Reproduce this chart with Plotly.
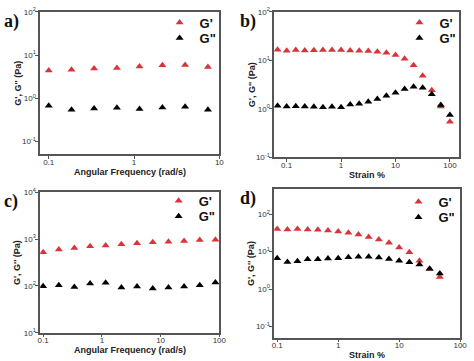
import plotly.graph_objects as go

# ---------------- data ----------------
freq_a = [0.1, 0.185, 0.34, 0.63, 1.16, 2.15, 3.97, 7.35]
gp_a = [4.4, 4.56, 4.9, 4.98, 5.4, 5.8, 5.9, 5.25]
gpp_a = [0.67, 0.54, 0.58, 0.60, 0.56, 0.61, 0.635, 0.54]

strain_b = [0.068, 0.1, 0.147, 0.215, 0.316, 0.464, 0.68, 1.0, 1.47, 2.15,
            3.16, 4.64, 6.8, 10.0, 14.7, 21.5, 31.6, 46.4, 68.0, 100.0]
gp_b = [16.5, 15.8, 16.3, 16.0, 16.2, 16.4, 16.3, 16.3, 16.0, 15.7,
        15.5, 15.0, 14.3, 12.8, 10.7, 7.9, 4.8, 2.4, 1.12, 0.54]
gpp_b = [1.15, 1.12, 1.13, 1.12, 1.10, 1.08, 1.10, 1.07, 1.22, 1.27,
         1.40, 1.60, 1.85, 2.15, 2.55, 2.85, 2.70, 2.00, 1.20, 0.74]

freq_c = [0.1, 0.185, 0.34, 0.63, 1.16, 2.15, 3.97, 7.35, 13.6, 25.1, 46.4, 85.8]
gp_c = [520, 595, 645, 700, 723, 771, 810, 850, 879, 908, 952, 968]
gpp_c = [98, 103, 95, 112, 116, 92, 97, 88, 92, 97, 103, 118]

strain_d = [0.1, 0.147, 0.215, 0.316, 0.464, 0.68, 1.0, 1.47, 2.15, 3.16,
            4.64, 6.8, 10.0, 14.7, 21.5, 31.6, 46.4]
gp_d = [40.6, 39.0, 40.6, 39.0, 38.3, 36.7, 34.6, 31.9, 28.9, 24.6,
        21.0, 17.2, 13.0, 9.6, 5.7, 3.45, 2.1]
gpp_d = [6.7, 5.3, 5.5, 6.3, 6.3, 6.6, 6.7, 7.1, 7.3, 7.3,
         7.0, 6.4, 5.7, 5.2, 4.5, 3.5, 2.6]

x_ticks = [0.1, 1, 10, 100]
x_ticktext = ["0.1", "1", "10", "100"]
y_ticks = [0.1, 1, 10, 100, 1000, 10000]
y_ticktext = ["10<sup>-1</sup>", "10<sup>0</sup>", "10<sup>1</sup>",
              "10<sup>2</sup>", "10<sup>3</sup>", "10<sup>4</sup>"]

panel_labels = ["a)", "b)", "c)", "d)"]
x_titles = ["Angular Frequency (rad/s)", "Strain %", "Angular Frequency (rad/s)", "Strain %"]
y_title = "G', G'' (Pa)"
name_gp = "G'"
name_gpp = 'G"'

RED = "#d8343c"
BLACK = "#000000"
AXC = "#555555"
SANS = "Arial, Liberation Sans, sans-serif"
SERIF = "Times New Roman, Liberation Serif, serif"

W, H = 474, 361

def px_x(p):
    return p / W

def px_y(p):
    return 1 - p / H

# panel geometry in pixels: (left, right, top, bottom), x range, y range,
# legend marker x and the two legend row centres, panel-label left x
panels = [
    dict(box=(38, 221, 6, 153), xr=[-1.1, 1.0], yr=[-1.3, 2.0], leg=(180, 17, 33), lab=0,
         x=freq_a, gp=gp_a, gpp=gpp_a),
    dict(box=(277, 466, 6, 156), xr=[-1.23, 2.17], yr=[-1.0, 2.0], leg=(425, 17, 33), lab=241,
         x=strain_b, gp=gp_b, gpp=gpp_b),
    dict(box=(38, 221, 192, 337), xr=[-1.05, 2.0], yr=[1.0, 4.0], leg=(179, 201, 217), lab=0,
         x=freq_c, gp=gp_c, gpp=gpp_c),
    dict(box=(277, 467, 189, 342), xr=[-1.05, 2.0], yr=[-1.3, 2.67], leg=(424, 202, 218), lab=241,
         x=strain_d, gp=gp_d, gpp=gpp_d),
]

fig = go.Figure()
layout = dict(
    width=W, height=H, margin=dict(l=0, r=0, t=0, b=0),
    paper_bgcolor="white", plot_bgcolor="white", showlegend=True,
    font=dict(family=SANS, color="#222"),
)
annotations = []

for i, p in enumerate(panels):
    n = "" if i == 0 else str(i + 1)
    xa, ya = "x" + n, "y" + n
    lg1 = "legend" + ("" if i == 0 else str(2 * i + 1))
    lg2 = "legend" + str(2 * i + 2)
    l, r, t, b = p["box"]
    mx, ly1, ly2 = p["leg"]
    fig.add_trace(go.Scatter(x=p["x"], y=p["gp"], mode="markers", name="<b>" + name_gp + "</b>",
                             marker=dict(symbol="triangle-up", size=7, color=RED),
                             xaxis=xa, yaxis=ya, legend=lg1))
    fig.add_trace(go.Scatter(x=p["x"], y=p["gpp"], mode="markers", name="<b>" + name_gpp + "</b>",
                             marker=dict(symbol="triangle-up", size=7, color=BLACK),
                             xaxis=xa, yaxis=ya, legend=lg2))
    common = dict(type="log", showline=True, mirror=True, linecolor=AXC, linewidth=1.5,
                  ticks="outside", ticklen=3, tickwidth=1, tickcolor=AXC, showgrid=False,
                  zeroline=False, tickfont=dict(size=8, color="#333", family=SANS))
    layout["xaxis" + n] = dict(common, domain=[px_x(l), px_x(r)], range=p["xr"], anchor=ya,
                               tickvals=x_ticks, ticktext=x_ticktext, ticklabelstandoff=-4)
    layout["yaxis" + n] = dict(common, domain=[px_y(b), px_y(t)], range=p["yr"], anchor=xa,
                               tickvals=y_ticks, ticktext=y_ticktext, ticklabelstandoff=-2)
    for lg, ly in ((lg1, ly1), (lg2, ly2)):
        layout[lg] = dict(x=px_x(mx - 20), y=px_y(ly), xanchor="left", yanchor="middle",
                          bgcolor="rgba(0,0,0,0)", font=dict(size=13, family=SANS, color="#111"))
    # panel label
    annotations.append(dict(text="<b>" + panel_labels[i] + "</b>", x=px_x(p["lab"]),
                            y=px_y(t + 10), xref="paper", yref="paper", xanchor="left", yanchor="middle",
                            showarrow=False, borderpad=0,
                            font=dict(family=SERIF, size=18, color="#111")))
    # x title
    annotations.append(dict(text="<b>" + x_titles[i] + "</b>", x=px_x((l + r) / 2),
                            y=px_y(b + 18), xref="paper", yref="paper", xanchor="center", yanchor="middle",
                            showarrow=False, font=dict(family=SANS, size=9, color="#222")))
    # y title
    annotations.append(dict(text="<b>" + y_title + "</b>", x=px_x(l - 23), y=px_y((t + b) / 2),
                            xref="paper", yref="paper", xanchor="center", yanchor="middle",
                            textangle=-90, showarrow=False,
                            font=dict(family=SANS, size=9, color="#222")))

layout["annotations"] = annotations
fig.update_layout(**layout)
fig.write_html("out.html", post_script="document.body.style.margin='0px';",
               config={"responsive": False, "displayModeBar": False})
